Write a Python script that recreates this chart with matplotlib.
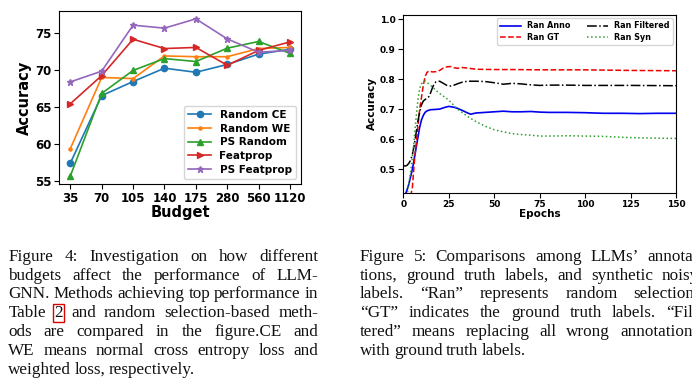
import matplotlib.pyplot as plt

# ---- Figure 4 data (budget study) ----
budgets = ["35", "70", "105", "140", "175", "280", "560", "1120"]
random_ce = [57.4, 66.5, 68.4, 70.2, 69.65, 70.7, 72.1, 72.75]
random_we = [59.35, 68.95, 68.8, 71.85, 71.75, 71.75, 72.85, 73.0]
ps_random = [55.65, 66.8, 69.9, 71.5, 71.1, 72.9, 73.8, 72.2]
featprop = [65.4, 69.2, 74.1, 72.85, 73.0, 70.6, 72.6, 73.75]
ps_featprop = [68.35, 69.8, 76.0, 75.6, 76.85, 74.15, 72.35, 72.6]

# ---- Figure 5 data (training curves) ----
anno_ep = [0, 1, 2, 3, 4, 5, 6, 7, 8, 9, 10, 11, 12, 13, 15, 18, 20, 23, 25, 28, 30, 33, 35, 37,
           40, 45, 50, 55, 60, 65, 70, 75, 80, 90, 100, 110, 120, 130, 140, 150]
anno = [0.41, 0.415, 0.43, 0.45, 0.475, 0.50, 0.535, 0.57, 0.605, 0.64, 0.665, 0.68, 0.69, 0.695,
        0.699, 0.700, 0.701, 0.707, 0.710, 0.707, 0.703, 0.695, 0.689, 0.684,
        0.688, 0.690, 0.692, 0.694, 0.692, 0.692, 0.693, 0.691, 0.690, 0.690, 0.689, 0.687,
        0.687, 0.686, 0.687, 0.687]

gt_ep = [4, 5, 6, 7, 8, 9, 10, 11, 12, 13, 14, 16, 18, 20, 22, 24, 26, 28, 30, 32, 35, 40,
         50, 60, 75, 100, 125, 150]
gt = [0.41, 0.44, 0.52, 0.58, 0.64, 0.70, 0.74, 0.78, 0.81, 0.823, 0.828, 0.825, 0.826, 0.830,
      0.838, 0.842, 0.843, 0.839, 0.837, 0.840, 0.838, 0.834, 0.833, 0.833, 0.832, 0.832,
      0.830, 0.829]

filt_ep = [0, 1, 2, 3, 4, 5, 6, 7, 8, 9, 10, 11, 12, 13, 14, 15, 16, 17, 18, 20, 22, 24, 26,
           28, 30, 33, 36, 40, 45, 50, 55, 60, 65, 70, 75, 80, 90, 100, 110, 125, 150]
filtered = [0.512, 0.511, 0.513, 0.52, 0.53, 0.55, 0.58, 0.62, 0.66, 0.69, 0.715, 0.728, 0.733,
            0.737, 0.742, 0.755, 0.772, 0.785, 0.792, 0.794, 0.787, 0.780, 0.778, 0.781, 0.786,
            0.792, 0.794, 0.794, 0.793, 0.789, 0.784, 0.787, 0.785, 0.782, 0.780, 0.781, 0.781,
            0.780, 0.780, 0.780, 0.779]

syn_ep = [2, 3, 4, 5, 6, 7, 8, 9, 10, 11, 12, 14, 16, 18, 20, 25, 30, 35, 40, 45, 50, 55, 60,
          65, 70, 75, 80, 90, 100, 110, 120, 130, 140, 150]
syn = [0.41, 0.45, 0.49, 0.54, 0.60, 0.67, 0.73, 0.77, 0.785, 0.792, 0.795, 0.785, 0.775, 0.763,
       0.753, 0.731, 0.70, 0.678, 0.659, 0.644, 0.632, 0.625, 0.619, 0.616, 0.614, 0.611, 0.611,
       0.612, 0.611, 0.610, 0.607, 0.605, 0.604, 0.603]

caption_left = [
    "Figure 4:  Investigation on how different",
    "budgets affect the performance of LLM-",
    "GNN. Methods achieving top performance in",
    "Table [2] and random selection-based meth-",
    "ods are compared in the figure.CE and",
    "WE means normal cross entropy loss and",
    "weighted loss, respectively.",
]
caption_right = [
    "Figure 5:  Comparisons among LLMs\u2019 annota-",
    "tions, ground truth labels, and synthetic noisy",
    "labels.  \u201cRan\u201d represents random selection.",
    "\u201cGT\u201d indicates the ground truth labels.  \u201cFil-",
    "tered\u201d means replacing all wrong annotations",
    "with ground truth labels.",
]

W, H = 692, 385
fig = plt.figure(figsize=(W / 100, H / 100), dpi=100)

# ---------------- left chart ----------------
ax1 = fig.add_axes([59.3 / W, 1 - 184 / H, 241.7 / W, 173 / H])
x = range(len(budgets))
ax1.plot(x, random_ce, marker="o", ms=4.5, lw=1.2, label="Random CE")
ax1.plot(x, random_we, marker=".", ms=4.5, lw=1.2, label="Random WE")
ax1.plot(x, ps_random, marker="^", ms=4.5, lw=1.2, label="PS Random")
ax1.plot(x, featprop, marker=">", ms=4.5, lw=1.2, label="Featprop")
ax1.plot(x, ps_featprop, marker="*", ms=4.5, lw=1.2, label="PS Featprop")
ax1.set_xticks(list(x))
ax1.set_xticklabels(budgets)
ax1.set_yticks([55, 60, 65, 70, 75])
ax1.tick_params(labelsize=8.5, pad=2)
for lab in ax1.get_xticklabels() + ax1.get_yticklabels():
    lab.set_fontweight("bold")
ax1.set_xlabel("Budget", fontsize=10.5, fontweight="bold", labelpad=0)
ax1.set_ylabel("Accuracy", fontsize=10.5, fontweight="bold", labelpad=2)
ax1.legend(loc="lower right", prop={"weight": "bold", "size": 7.5},
           handlelength=2.2, borderaxespad=0.5, labelspacing=0.35)

# ---------------- right chart ----------------
ax2 = fig.add_axes([403.3 / W, 1 - 192.7 / H, 272.7 / W, 177.7 / H])
ax2.plot(anno_ep, anno, color="#0000ee", lw=1.2, ls="-", label="Ran Anno")
ax2.plot(gt_ep, gt, color="#ee0000", lw=1.1, ls="--", label="Ran GT")
ax2.plot(filt_ep, filtered, color="black", lw=1.1, ls="-.", label="Ran Filtered")
ax2.plot(syn_ep, syn, color="#2ca02c", lw=1.1, ls=":", label="Ran Syn")
ax2.set_xlim(0, 150)
ax2.set_ylim(0.422, 1.015)
ax2.set_xticks([0, 25, 50, 75, 100, 125, 150])
ax2.set_yticks([0.5, 0.6, 0.7, 0.8, 0.9, 1.0])
ax2.tick_params(labelsize=6.5, pad=2)
for lab in ax2.get_xticklabels() + ax2.get_yticklabels():
    lab.set_fontweight("bold")
ax2.set_xlabel("Epochs", fontsize=7.5, fontweight="bold", labelpad=0)
ax2.set_ylabel("Accuracy", fontsize=7.5, fontweight="bold", labelpad=2)
ax2.legend(loc="upper right", ncol=2, prop={"weight": "bold", "size": 5.8},
           handlelength=2.6, columnspacing=2.0, borderaxespad=0.4, labelspacing=0.3)

# ---------------- captions (justified) ----------------
renderer = fig.canvas.get_renderer()
cap_font = dict(family="Liberation Serif", size=12.3, color="#111111")


def place_caption(lines, x0, x1, y0, dy):
    for i, line in enumerate(lines):
        words = line.split()
        y = 1 - (y0 + i * dy) / H
        texts = []
        for w in words:
            boxed = w.startswith("[") and w.endswith("]")
            s = w[1:-1] if boxed else w
            t = fig.text(0, y, s, va="baseline", ha="left", **cap_font)
            if boxed:
                t.set_bbox(dict(facecolor="none", edgecolor="#dd0000", pad=0.6, lw=1.0))
            texts.append(t)
        widths = [t.get_window_extent(renderer).width for t in texts]
        last = i == len(lines) - 1
        gap = 3.5 if last or len(words) == 1 else (x1 - x0 - sum(widths)) / (len(words) - 1)
        xpos = x0
        for t, wd in zip(texts, widths):
            t.set_x(xpos / W)
            xpos += wd + gap


place_caption(caption_left, 8.3, 318.3, 260.7, 18.8)
place_caption(caption_right, 360.0, 699.0, 260.7, 18.8)

fig.savefig("out.png", dpi=100)
